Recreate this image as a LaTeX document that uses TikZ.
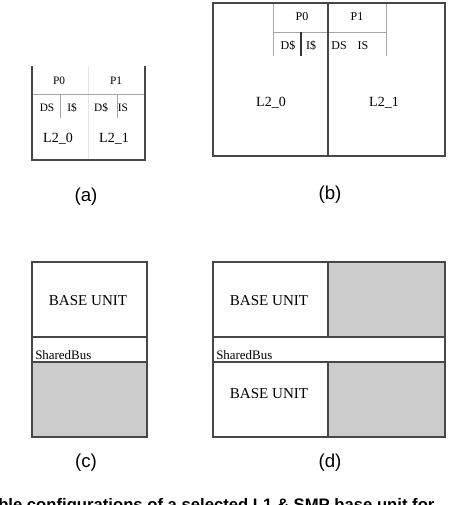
\documentclass[tikz,border=0pt]{standalone}
\usepackage{fontspec}
\setmainfont{Liberation Serif}
\newfontfamily\labelfont{Liberation Sans}
\begin{document}
\begin{tikzpicture}[x=0.75pt,y=-0.75pt,
  outer/.style={draw=black!72,line width=0.8pt},
  inner/.style={draw=black!35,line width=0.6pt},
  faint/.style={draw=black!10,line width=0.6pt},
  dark/.style={draw=black!80,line width=0.8pt},
  shade/.style={fill=black!20},
  ta/.style={font=\fontsize{8.5}{10}\selectfont,inner sep=0pt},
  tb/.style={font=\fontsize{9}{11}\selectfont,inner sep=0pt},
  tl/.style={font=\fontsize{10.5}{12}\selectfont,inner sep=0pt},
  tbase/.style={font=\fontsize{11.3}{13}\selectfont,inner sep=0pt},
  tbus/.style={font=\fontsize{9.7}{11}\selectfont,inner sep=0pt,anchor=west},
  sublabel/.style={font=\labelfont\fontsize{14}{16}\selectfont,inner sep=0pt}]
\useasboundingbox (0,0) rectangle (474,505);
\fill[white] (0,0) rectangle (474,505);

% ---------------- (a)
\draw[faint] (88,66) -- (88,160);
\draw[inner] (32,94) -- (145,94);
\draw[inner] (60,94) -- (60,118);
\draw[inner] (117,94) -- (117,118);
\draw[outer] (32,66) -- (32,160) -- (145,160) -- (145,66);
\node[ta] (a-p0) at (59,81) {P0};
\node[ta] (a-p1) at (116,81) {P1};
\node[ta] (a-ds) at (47,108) {DS};
\node[ta] (a-is0) at (72,108) {I\$};
\node[ta] (a-dd) at (101,108) {D\$};
\node[ta] (a-is1) at (123,108) {IS};
\node[tl] (a-l0) at (58,139) {L2\_0};
\node[tl] (a-l1) at (114,139) {L2\_1};
\node[sublabel] (a-lab) at (86,197) {(a)};

% ---------------- (b)
\draw[inner] (273,3) -- (273,56);
\draw[inner] (386,3) -- (386,56);
\draw[inner] (273,32) -- (386,32);
\draw[dark] (301,32) -- (301,56);
\draw[outer] (328,3) -- (328,156);
\draw[outer] (213,3) rectangle (445,156);
\node[tb] (b-p0) at (302,17) {P0};
\node[tb] (b-p1) at (357,17) {P1};
\node[tb] (b-dd) at (288,46) {D\$};
\node[tb] (b-is0) at (311,46) {I\$};
\node[tb] (b-ds) at (339,46) {DS};
\node[tb] (b-is1) at (363,46) {IS};
\node[tl] (b-l0) at (271,103) {L2\_0};
\node[tl] (b-l1) at (384,103) {L2\_1};
\node[sublabel] (b-lab) at (330,195) {(b)};

% ---------------- (c)
\fill[shade] (32,362) rectangle (147,437);
\draw[outer] (32,262) rectangle (147,437);
\draw[outer] (32,337) -- (147,337);
\draw[outer] (32,362) -- (147,362);
\node[tbase] (c-base) at (88,301) {BASE UNIT};
\node[tbus] (c-bus) at (35,355) {SharedBus};
\node[sublabel] (c-lab) at (86,463) {(c)};

% ---------------- (d)
\fill[shade] (328,262) rectangle (445,337);
\fill[shade] (328,362) rectangle (445,437);
\draw[outer] (213,262) rectangle (445,437);
\draw[outer] (213,337) -- (445,337);
\draw[outer] (213,362) -- (445,362);
\draw[outer] (328,262) -- (328,337);
\draw[outer] (328,362) -- (328,437);
\node[tbase] (d-base0) at (269,301) {BASE UNIT};
\node[tbase] (d-base1) at (269,394) {BASE UNIT};
\node[tbus] (d-bus) at (216,355) {SharedBus};
\node[sublabel] (d-lab) at (330,463) {(d)};

% ---------------- clipped caption (cut by the lower edge, as in the reference)
\begin{scope}
\clip (0,0) rectangle (474,505);
\node[font=\labelfont\bfseries\fontsize{12.5}{14}\selectfont,inner sep=0pt,anchor=base west] (cap) at (-2,510) {ble configurations of a selected L1 \& SMP base unit for};
\end{scope}
\end{tikzpicture}
\end{document}
